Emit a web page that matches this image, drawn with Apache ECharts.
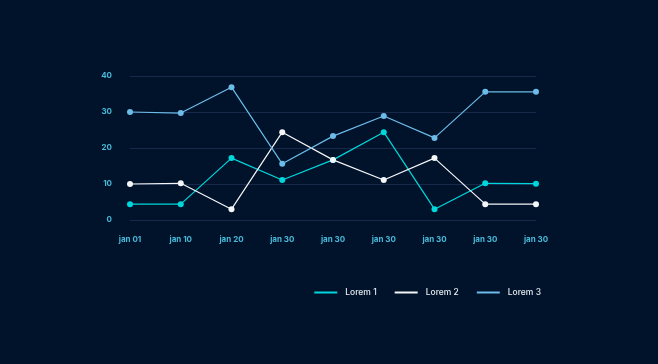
<!DOCTYPE html>
<html>
<head>
<meta charset="utf-8">
<script src="https://cdn.jsdelivr.net/npm/echarts@6/dist/echarts.min.js"></script>
<style>
    html, body { margin: 0; padding: 0; background: #01132b; }
    #chart { width: 658px; height: 364px; }
</style>
</head>
<body>
<div id="chart"></div>
<script>
    var days = ['jan 01', 'jan 10', 'jan 20', 'jan 30', 'jan 30', 'jan 30', 'jan 30', 'jan 30', 'jan 30'];
    var lorem1 = [4.4, 4.4, 17.2, 11.1, 16.7, 24.4, 3, 10.2, 10.1];
    var lorem2 = [10, 10.2, 3, 24.4, 16.7, 11.1, 17.2, 4.4, 4.4];
    var lorem3 = [30, 29.7, 36.9, 15.6, 23.3, 28.9, 22.8, 35.6, 35.6];

    function line(name, data, color) {
        return {
            name: name,
            type: 'line',
            data: data,
            symbol: 'circle',
            symbolSize: 6,
            lineStyle: { width: 1.2, color: color },
            itemStyle: { color: color },
            emphasis: { disabled: true }
        };
    }

    var chart = echarts.init(document.getElementById('chart'));
    chart.setOption({
        backgroundColor: '#01132b',
        animation: false,
        grid: { left: 130, right: 122, top: 76, bottom: 144 },
        legend: {
            right: 112,
            top: 283,
            itemWidth: 23,
            itemHeight: 2,
            itemGap: 18,
            icon: 'rect',
            textStyle: { color: '#e8edf3', fontSize: 8.5, fontWeight: 500, fontFamily: 'Inter', padding: [0, 0, 0, 3] },
            data: ['Lorem 1', 'Lorem 2', 'Lorem 3']
        },
        xAxis: {
            type: 'category',
            data: days,
            boundaryGap: false,
            axisLine: { show: false },
            axisTick: { show: false },
            axisLabel: { color: '#48b9d8', fontSize: 8, fontWeight: 'bold', fontFamily: 'Inter', margin: 16 }
        },
        yAxis: {
            type: 'value',
            min: 0,
            max: 40,
            interval: 10,
            axisLine: { show: false },
            axisTick: { show: false },
            axisLabel: { color: '#48b9d8', fontSize: 8, fontWeight: 'bold', fontFamily: 'Inter', margin: 18 },
            splitLine: { lineStyle: { color: '#17294a', width: 1 } }
        },
        series: [
            line('Lorem 1', lorem1, '#00d7dc'),
            line('Lorem 2', lorem2, '#f4f6f8'),
            line('Lorem 3', lorem3, '#6cbbe9')
        ]
    });
</script>
</body>
</html>
